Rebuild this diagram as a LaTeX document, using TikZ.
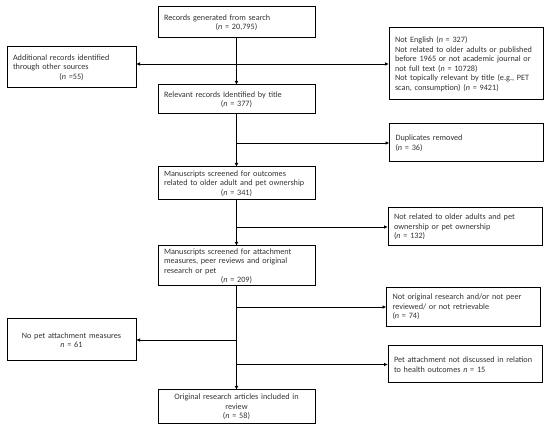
\documentclass[tikz,border=0pt]{standalone}
\usepackage{fontspec}
\setmainfont{Carlito}
\usetikzlibrary{arrows.meta}
\usetikzlibrary{positioning}
\tikzstyle{box} = [draw, line width=1pt, rectangle, inner xsep=6pt, inner ysep=1pt, outer sep=0pt, font=\fontsize{8.2}{9.5}\selectfont, text=black!80]
\tikzstyle{mainbox} = [box, minimum width=157pt, text width=145pt]
\tikzstyle{sidebox} = [box, minimum width=154pt, text width=142pt]
\tikzstyle{arrow} = [line width=0.8pt, -{Latex[length=4pt,width=3.5pt]}]

\begin{document}
\begin{tikzpicture}
	\useasboundingbox (0pt,0pt) rectangle (550pt,-433pt);

	% Main column
	\node[mainbox, minimum height=31pt] (search) at (236.5pt,-22.5pt)
		{\raggedright Records generated from search\par\centering(\textit{n} = 20,795)\par};
	\node[mainbox, minimum height=29pt, below = 47pt of search] (title)
		{\raggedright Relevant records Identified by title\par\centering(\textit{n} = 377)\par};
	\node[mainbox, minimum height=33pt, below = 53pt of title] (outcome)
		{\raggedright Manuscripts screened for outcomes\\related to older adult and pet ownership\par\centering(\textit{n} = 341)\par};
	\node[mainbox, minimum height=40pt, below = 46pt of outcome] (attach)
		{\raggedright Manuscripts screened for attachment\\measures, peer reviews and original\\research or pet\par\centering(\textit{n} = 209)\par};
	\node[mainbox, minimum height=34pt, below = 104pt of attach] (included)
		{\centering Original research articles included in\\review\\(\textit{n} = 58)\par};

	% Left boxes
	\node[box, minimum width=129pt, text width=117pt, minimum height=41pt] (extra) at (71.5pt,-67.5pt)
		{\raggedright Additional records identified\\through other sources\par\centering(\textit{n} =55)\par};
	\node[box, minimum width=129pt, text width=117pt, minimum height=42pt] (nopet) at (71.5pt,-340pt)
		{\centering No pet attachment measures\\\textit{n} = 61\par};

	% Right boxes
	\node[sidebox, minimum height=72pt] (english) at (466pt,-64pt)
		{\raggedright Not English (\textit{n} = 327)\\Not related to older adults or published\\before 1965 or not academic journal or\\not full text (\textit{n} = 10728)\\Not topically relevant by title (e.g., PET\\scan, consumption) (\textit{n} = 9421)\par};
	\node[sidebox, minimum height=38pt] (dupl) at (466.5pt,-143pt)
		{\raggedright Duplicates removed\\(\textit{n} = 36)\par};
	\node[sidebox, minimum height=38pt] (unrel) at (465pt,-227pt)
		{\raggedright Not related to older adults and pet\\ownership or pet ownership\\(\textit{n} = 132)\par};
	\node[sidebox, minimum height=39pt] (notorig) at (463.5pt,-307pt)
		{\raggedright Not original research and/or not peer\\reviewed/ or not retrievable\\(\textit{n} = 74)\par};
	\node[sidebox, minimum height=37pt] (health) at (465pt,-364.5pt)
		{\raggedright Pet attachment not discussed in relation\\to health outcomes \textit{n} = 15\par};

	% Vertical arrows
	\draw[arrow] (search) -- (title);
	\draw[arrow] (title) -- (outcome);
	\draw[arrow] (outcome) -- (attach);
	\draw[arrow] (attach) -- (included);

	% Side arrows
	\draw[arrow] (search.south |- english.west) -- (english.west);
	\draw[arrow] (search.south |- english.west) -- (english.west -| extra.east);
	\draw[arrow] (title.south |- dupl.west) -- (dupl.west);
	\draw[arrow] (outcome.south |- unrel.west) -- (unrel.west);
	\draw[arrow] (attach.south |- notorig.west) -- (notorig.west);
	\draw[arrow] (attach.south |- nopet.east) -- (nopet.east);
	\draw[arrow] (attach.south |- health.west) -- (health.west);

\end{tikzpicture}
\end{document}
